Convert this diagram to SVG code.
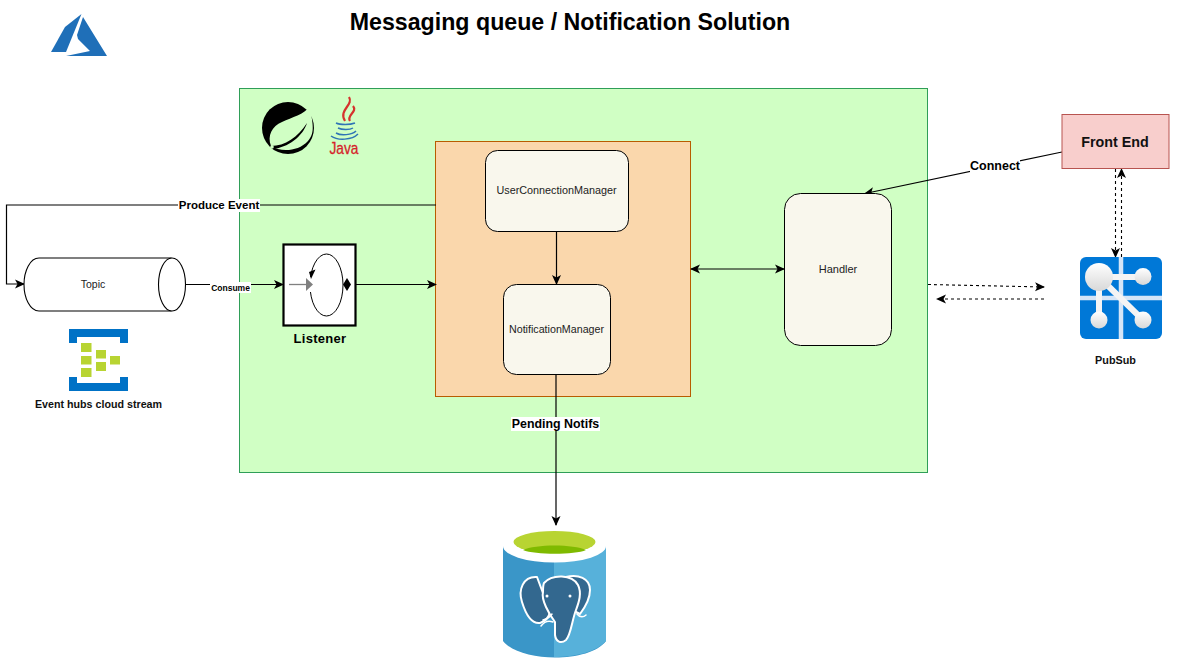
<svg xmlns="http://www.w3.org/2000/svg" width="1200" height="658" viewBox="0 0 1200 658">
<defs>
<style>
text{font-family:"Liberation Sans",Arial,sans-serif;fill:#000;text-anchor:middle}
.l{fill:none;stroke:#000;stroke-width:1.2}
.d{fill:none;stroke:#000;stroke-width:1.1;stroke-dasharray:3 3}
.box{fill:#f9f7ed;stroke:#000;stroke-width:1}
.lab{fill:#fff}
.sq{fill:#b8d432}
.eleph{fill:#33688f;stroke:#fff;stroke-width:2;stroke-linejoin:round}
.wl{fill:none;stroke:#fff;stroke-width:1.500;stroke-linecap:round}
</style>
<marker id="a" viewBox="0 0 10 10" refX="9" refY="5" markerWidth="10" markerHeight="10" markerUnits="userSpaceOnUse" orient="auto-start-reverse"><path d="M0 0.500L10 5L0 9.500L2.500 5Z" fill="#000"/></marker>
<linearGradient id="g" x1="0" y1="0" x2="0" y2="1"><stop offset="0" stop-color="#fff"/><stop offset="1" stop-color="#d8d8d8"/></linearGradient>
</defs>
<rect width="1200" height="658" fill="#fff"/>
<text id="title" x="570" y="30" font-size="23.200" font-weight="700">Messaging queue / Notification Solution</text>
<g id="azure-logo">
<path d="M81.500 14L65 27L51 52H66Z" fill="#1f6fb8"/>
<path d="M83 17L77 35L78 39L90 51L66 56H107Z" fill="#1f6fb8"/>
</g>
<g id="app-container"><rect x="239.500" y="88.500" width="688" height="384" fill="#d0ffc4" stroke="#2f9e58" stroke-width="1"/></g>
<g id="spring-logo">
<circle cx="288" cy="128" r="26" fill="#000"/>
<path d="M310 106C312 122 316 132 308 141C298 152 280 152 271 146C267 136 272 126 282 122C292 117 304 115 310 106Z" fill="#d0ffc4"/>
<path d="M271 146C285 146 298 137 307 123C303 136 288 148 272 149Z" fill="#000"/>
<circle cx="272" cy="147" r="1.800" fill="#d0ffc4"/>
</g>
<g id="java-logo">
<path d="M349 97C354 105 338 110 345 121M353 106C358 112 346 115 350 121" fill="none" stroke="#d5322d" stroke-width="2.200"/>
<g fill="none" stroke="#2f74b5" stroke-width="1.500"><path d="M336 123C340 125 350 125 355 123"/><path d="M338 128C342 130 350 130 353 128"/><path d="M336 133C341 136 352 135 356 131"/><path d="M331 136C338 141 352 140 358 134"/></g>
<text x="344" y="154" font-size="17" style="fill:#d5222a;stroke:#d5222a;stroke-width:.3" textLength="29" lengthAdjust="spacingAndGlyphs">Java</text>
</g>
<g id="manager-box">
<rect x="435.500" y="141.500" width="255" height="255" fill="#fad7ac" stroke="#b85c00" stroke-width="1"/>
</g>
<g id="connectors">
<path class="l" d="M436 205H6.500V284H24" marker-end="url(#a)"/>
<path class="l" d="M186 284.500H283" marker-end="url(#a)"/>
<path class="l" d="M356 284.500H436" marker-end="url(#a)"/>
<path class="l" d="M556.500 231V284" marker-end="url(#a)"/>
<path class="l" d="M691 269H784" marker-start="url(#a)" marker-end="url(#a)"/>
<path class="l" d="M1062 152L865 193.500" marker-end="url(#a)"/>
<path class="l" d="M556 375V525" marker-end="url(#a)"/>
<path class="d" d="M928 284.500L1044 287" marker-end="url(#a)"/>
<path class="d" d="M1044 299H937" marker-end="url(#a)"/>
<path class="d" d="M1115.500 169V257" marker-end="url(#a)"/>
<path class="d" d="M1121.500 257V169" marker-end="url(#a)"/>
</g>
<g id="label-produce"><rect class="lab" x="178" y="199" width="82" height="13"/><text x="219" y="209" font-size="11.500" font-weight="700">Produce Event</text></g>
<g id="label-consume"><rect class="lab" x="210" y="282" width="41" height="11"/><text x="230.500" y="291" font-size="8.500" font-weight="700">Consume</text></g>
<g id="label-connect"><rect class="lab" x="970" y="160" width="50" height="13"/><text x="995" y="170" font-size="12.500" font-weight="700">Connect</text></g>
<g id="label-pending"><rect class="lab" x="511" y="417" width="89" height="14"/><text x="555.500" y="428" font-size="12.400" font-weight="700">Pending Notifs</text></g>
<g id="topic">
<path d="M39 258H171V311H39C30 311 24 298 24 284.500C24 271 30 258 39 258Z" fill="#fff" stroke="#000" stroke-width="1.100"/>
<ellipse cx="172" cy="284.500" rx="13.500" ry="26.500" fill="#fff" stroke="#000" stroke-width="1.100"/>
<text x="93" y="288" font-size="10.500" style="fill:#222">Topic</text>
</g>
<g id="event-hubs-icon">
<path d="M69 329H128V343H120V337H77V343H69Z" fill="#0072c6"/>
<path d="M69 391H128V377H120V383H77V377H69Z" fill="#0072c6"/>
<rect class="sq" x="81" y="343" width="10.500" height="9"/><rect class="sq" x="81" y="356" width="10.500" height="8.500"/><rect class="sq" x="81" y="368" width="10.500" height="9"/>
<rect class="sq" x="96" y="350" width="10" height="8.500"/><rect class="sq" x="96" y="362" width="10" height="9"/><rect class="sq" x="110" y="356" width="10" height="8.500"/>
</g>
<text id="event-hubs-label" x="98.500" y="408" font-size="10.700" font-weight="700" style="fill:#111">Event hubs cloud stream</text>
<g id="listener">
<rect x="283.500" y="244.500" width="72" height="81" fill="#fff" stroke="#000" stroke-width="2.200"/>
<ellipse cx="326.500" cy="285" rx="16.500" ry="31" fill="none" stroke="#000" stroke-width="1"/>
<rect x="306" y="277" width="6" height="15" fill="#fff"/>
<path d="M289 284.500H308" stroke="#808080" stroke-width="1.300"/>
<path d="M306 278L313 284.500L306 291Z" fill="#808080"/>
<path d="M309 272L315.500 269.500L311 279Z" fill="#000"/>
<path d="M347 278L351 284.500L347 291L343 284.500Z" fill="#000"/>
<text x="320" y="343" font-size="13" font-weight="700" style="letter-spacing:.3px">Listener</text>
</g>
<g id="user-connection-manager">
<rect class="box" x="485.500" y="150.500" width="143" height="81" rx="12"/>
<text x="556.500" y="194" font-size="10.800" style="fill:#222">UserConnectionManager</text>
</g>
<g id="notification-manager">
<rect class="box" x="503.500" y="284.500" width="107" height="90" rx="13"/>
<text x="556.500" y="332.500" font-size="10.700" style="fill:#222">NotificationManager</text>
</g>
<g id="handler">
<rect class="box" x="784.500" y="193.500" width="107" height="152" rx="16"/>
<text x="838" y="273" font-size="11" style="fill:#222">Handler</text>
</g>
<g id="front-end">
<rect x="1062" y="114.500" width="107" height="54" fill="#f8cecc" stroke="#b85450" stroke-width="1"/>
<text x="1115" y="146.500" font-size="14.300" font-weight="700" style="fill:#111">Front End</text>
</g>
<g id="pubsub">
<rect x="1080" y="257" width="82" height="82" rx="6" fill="#0078d7"/>
<path d="M1121 257V339M1080 298H1162" stroke="#d5e5f7" stroke-width="4.500" fill="none"/>
<path d="M1099 277H1143M1099 277V320M1099 277L1143 320" stroke="#f4f4f4" stroke-width="6" fill="none"/>
<circle cx="1099" cy="277" r="14" fill="url(#g)"/><circle cx="1143" cy="276.500" r="8.500" fill="url(#g)"/><circle cx="1099" cy="320" r="8.500" fill="url(#g)"/><circle cx="1143" cy="320" r="8.500" fill="url(#g)"/>
<text x="1115.500" y="364" font-size="10.800" font-weight="700" style="fill:#111">PubSub</text>
</g>
<g id="postgres">
<path d="M503 546V641C520 663 590 663 606 641V546Z" fill="#3a96c8"/>
<path d="M554 552V657C575 657 596 652 606 641V546Z" fill="#57b1da"/>
<ellipse cx="554.500" cy="546" rx="51.500" ry="16.500" fill="#fff"/>
<ellipse cx="554.500" cy="542" rx="41" ry="11" fill="#b8d432"/>
<path d="M523 550C535 544 574 544 586 550C575 555 535 555 523 550Z" fill="#7fba00"/>
<path class="eleph" d="M537 577C523 576 518 590 522 602C526 615 532 624 540 623C546 621 549 617 550 612Z"/>
<path class="eleph" d="M566 577C578 574 590 578 590 590C590 598 586 606 580 614L572 610Z"/>
<path class="eleph" d="M544 583C552 574 572 574 578 585C582 593 579 602 576 610C572 620 571 635 566 640C561 644 556 642 555 635V622C549 614 541 600 543 592C543 588 543 585 544 583Z"/>
<path class="wl" d="M553 622C548 620 544 622 541 626M577 614C580 618 584 617 586 615M543 620C547 619 550 617 552 614"/>
<circle cx="547" cy="596" r="1.500" fill="#fff"/><circle cx="570" cy="596" r="1.500" fill="#fff"/>
</g>
</svg>
